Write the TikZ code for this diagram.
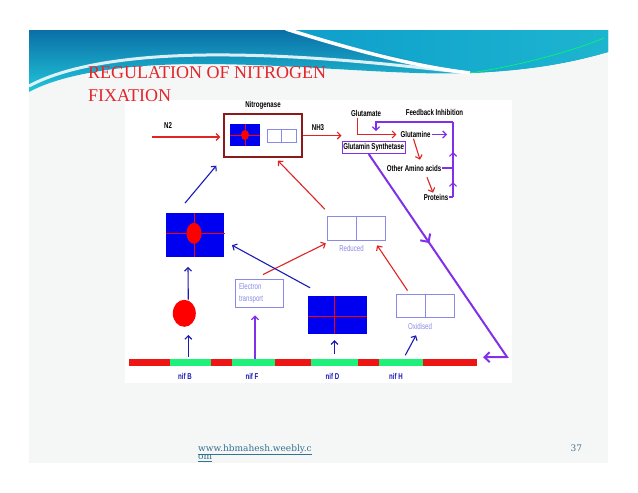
\documentclass[tikz,border=0pt]{standalone}
\usepackage{fontspec}
\setmainfont{Liberation Serif}
\newfontfamily\labfont[FakeStretch=0.72]{Liberation Sans}
\newfontfamily\footfont{DejaVu Serif}
\usetikzlibrary{arrows.meta,positioning,shapes.geometric,decorations.markings}
\definecolor{slidebg}{HTML}{F5F7F7}
\definecolor{bandtop}{HTML}{0A6FA6}
\definecolor{bandbot}{HTML}{22C6DA}
\definecolor{bandright}{HTML}{0E9ECB}
\definecolor{titlered}{HTML}{E3262B}
\definecolor{boxbrown}{HTML}{8B1A1A}
\definecolor{fillblue}{HTML}{0000F0}
\definecolor{ltblue}{HTML}{8A8AE6}
\definecolor{arrred}{HTML}{E02424}
\definecolor{arrblue}{HTML}{1A1AB8}
\definecolor{purp}{HTML}{8030E8}
\definecolor{barred}{HTML}{EE1515}
\definecolor{genegreen}{HTML}{1EF07A}
\definecolor{linkblue}{HTML}{34708F}
\tikzset{
  lab/.style={font=\labfont\bfseries\fontsize{8.5}{9}\selectfont, inner sep=1pt},
  ltlab/.style={font=\labfont\fontsize{8.5}{12}\selectfont, text=ltblue, inner sep=1pt},
  niflab/.style={lab, text=arrblue},
  titletext/.style={font=\fontsize{18}{23}\selectfont, text=titlered, anchor=base west, inner sep=0pt},
  foottext/.style={font=\footfont\fontsize{9}{10}\selectfont, text=linkblue, anchor=base west, inner sep=0pt},
  bluebox/.style={rectangle, fill=fillblue, inner sep=0pt},
  ltbox/.style={rectangle, draw=ltblue, line width=0.9pt, inner sep=0pt},
  redball/.style={ellipse, fill=red, inner sep=0pt},
  gene/.style={rectangle, fill=genegreen, minimum height=6.5pt, inner sep=0pt},
  redarr/.style={draw=arrred, line width=1.1pt, -{Straight Barb[length=3.5pt,width=7pt]}},
  bluearr/.style={draw=arrblue, line width=1.1pt, -{Straight Barb[length=3.5pt,width=7pt]}},
  purparr/.style={draw=purp, line width=1.2pt, -{Straight Barb[length=3.5pt,width=7pt]}},
  purpline/.style={draw=purp, line width=1.2pt},
  crossred/.style={draw=red, line width=0.9pt},
}
\begin{document}
\begin{tikzpicture}[x=1pt,y=-1pt]
  \useasboundingbox (0,0) rectangle (638,493);
  % slide and header band
  \fill[slidebg] (29,30) rectangle (608,463);
  \shade[top color=bandtop, bottom color=bandbot] (29,30) -- (608,30) -- (608,52)
    .. controls (580,60) and (540,70) .. (470,73) .. controls (400,76) and (300,64) .. (200,64)
    .. controls (120,64) and (60,75) .. (29,92) -- cycle;
  \shade[left color=bandright, right color=bandbot!80!bandtop] (288,30) -- (608,30) -- (608,52)
    .. controls (580,60) and (540,70) .. (470,73) .. controls (420,62) and (340,46) .. (288,30) -- cycle;
  \draw[white, line width=3.5pt] (286,29) .. controls (340,46) and (410,66) .. (470,73);
  \draw[white, line width=3pt, opacity=.85] (29,86) .. controls (70,64) and (140,54) .. (230,55)
    .. controls (330,56) and (420,68) .. (470,73);
  \draw[green!60!cyan, line width=.6pt] (470,73) .. controls (530,64) and (580,48) .. (604,38);

  % diagram area
  \fill[white] (125,100) rectangle (512,383);
  \node[titletext] (title) at (88,78) {REGULATION OF NITROGEN};
  \node[titletext] (title2) at (88,101) {FIXATION};

  % nitrogenase
  \node[draw=boxbrown, line width=1.4pt, minimum width=78pt, minimum height=43pt] (nase) at (263,135.5) {};
  \node[bluebox, minimum width=30pt, minimum height=22pt] (nblue) at (245,135) {};
  \draw[crossred] (nblue.west) -- (nblue.east) (nblue.north) -- (nblue.south);
  \node[redball, minimum width=8pt, minimum height=10pt] (nfe) at (nblue) {};
  \node[ltbox, minimum width=29pt, minimum height=13pt] (nsplit) at (281.5,135.5) {};
  \draw[ltblue, line width=0.9pt] (nsplit.north) -- (nsplit.south);
  \node[lab, above=3pt of nase] (nlab) {Nitrogenase};
  \node[lab] (n2) at (168,125.5) {N2};
  \node[lab] (nh3) at (318,127.5) {NH3};
  \coordinate (n2in) at (152,137);

  % ammonia assimilation
  \node[lab] (glu) at (366,113.3) {Glutamate};
  \node[lab] (fb) at (434.5,112.5) {Feedback Inhibition};
  \node[lab, draw=purp, line width=1.4pt, minimum width=63pt, minimum height=11.6pt] (gs) at (373.7,147.5) {Glutamin Synthetase};
  \node[lab] (gln) at (415.5,134.5) {Glutamine};
  \node[lab] (oaa) at (414,168) {Other Amino acids};
  \node[lab] (prot) at (436,197) {Proteins};
  \coordinate (fbtop) at (453,122);
  \coordinate (fbbot) at (prot.east -| fbtop);
  \coordinate (bend) at (507,357);

  % MoFe protein, Fe protein, ferredoxin
  \node[bluebox, minimum width=58.6pt, minimum height=43.4pt] (mofe) at (195,235) {};
  \node[redball, minimum width=15pt, minimum height=21pt] (mofeco) at (194,233.3) {};
  \draw[crossred] (mofe.west |- mofeco) -- (mofe.east |- mofeco) (mofeco |- mofe.north) -- (mofeco |- mofe.south);
  \node[redball, minimum width=23pt, minimum height=27pt] (feco) at (184.3,313.3) {};
  \node[ltbox, minimum width=58.4pt, minimum height=23.3pt] (fdred) at (356.5,228.3) {};
  \draw[ltblue, line width=0.9pt] (fdred.north) -- (fdred.south);
  \node[ltlab, below=4pt of fdred, xshift=-5pt] (redlab) {Reduced};
  \node[ltbox, ltlab, minimum width=48pt, minimum height=28pt, text width=40pt, align=left] (etr) at (259,293) {Electron\\transport};
  \node[bluebox, minimum width=58.4pt, minimum height=38pt] (fep) at (337.5,315) {};
  \coordinate (fepx) at (334.3,316.7);
  \draw[crossred] (fep.west |- fepx) -- (fep.east |- fepx) (fepx |- fep.north) -- (fepx |- fep.south);
  \node[ltbox, minimum width=58pt, minimum height=23.3pt] (fdox) at (425,305.7) {};
  \draw[ltblue, line width=0.9pt] (fdox.north) -- (fdox.south);
  \node[ltlab, below=4pt of fdox, xshift=-5pt] (oxlab) {Oxidised};

  % nif genes
  \node[rectangle, fill=barred, minimum width=348pt, minimum height=6.5pt, inner sep=0pt] (bar) at (303,362.7) {};
  \node[gene, minimum width=40.7pt] (nifb) at (190.3,362.7) {};
  \node[gene, minimum width=43.6pt] (niff) at (253.5,362.7) {};
  \node[gene, minimum width=47.6pt] (nifd) at (334.5,362.7) {};
  \node[gene, minimum width=44pt] (nifh) at (401.3,362.7) {};
  \node[niflab] (lnifb) at (185,376) {nif B};
  \node[niflab] (lniff) at (252,376) {nif F};
  \node[niflab] (lnifd) at (332.5,376) {nif D};
  \node[niflab] (lnifh) at (396,376) {nif H};

  % arrows
  \draw[redarr, shorten >=3pt] (n2in) -- (n2in -| nase.west);
  \draw[redarr] (nase.east) -- (nase.east -| gs.west);
  \draw[redarr] ([xshift=-8.5pt]glu.south) |- ([xshift=-3pt]gln.west);
  \draw[purparr] (fbtop) -| ([xshift=2.3pt,yshift=10pt]gs.north);
  \draw[purpline, postaction={decorate}, decoration={markings,
      mark=at position 0.2 with {\arrow{Straight Barb[length=3.5pt,width=7pt]}},
      mark=at position 0.6 with {\arrow{Straight Barb[length=3.5pt,width=7pt]}}}] (fbbot) -- (fbtop);
  \draw[purparr, shorten >=6pt] (gln.east) -- (gln.east -| fbtop);
  \draw[purpline] (oaa.east) -- (oaa.east -| fbtop);
  \draw[purpline] (prot.east) -- (fbbot);
  \draw[redarr] ([xshift=-2pt]gln.south) -- ([xshift=6pt,yshift=4pt]oaa.north);
  \draw[redarr] ([xshift=13pt,yshift=-5pt]oaa.south) -- ([xshift=-3pt]prot.north);
  \draw[draw=purp, line width=2pt, -{Straight Barb[length=5pt,width=10pt]}, postaction={decorate}, decoration={markings,
      mark=at position 0.4 with {\arrow{Straight Barb[length=6pt,width=12pt]}}}]
    ([xshift=-5pt]gs.south) -- (bend) -- ([xshift=6pt,yshift=2pt]bar.north east);
  \draw[bluearr] ([xshift=-10pt,yshift=10pt]mofe.north) -- ([xshift=-7pt,yshift=-8pt]nase.south west);
  \draw[redarr] ([xshift=-2pt,yshift=7pt]fdred.north west) -- ([xshift=15pt,yshift=-3pt]nase.south);
  \draw[redarr] ([xshift=4pt,yshift=4pt]etr.north) -- ([xshift=-1pt,yshift=-3pt]fdred.south west);
  \draw[redarr] ([xshift=12pt,yshift=3pt]fdox.north west) -- ([xshift=-9pt,yshift=-5pt]fdred.south east);
  \draw[bluearr] ([xshift=2pt,yshift=8pt]fep.north west) -- ([xshift=7.5pt,yshift=11.7pt]mofe.south east);
  \draw[bluearr] ([xshift=4pt]feco.north) -- ([xshift=-7pt,yshift=-10pt]mofe.south);
  \draw[bluearr] ([xshift=-2pt,yshift=2pt]nifb.north) -- ([xshift=4pt,yshift=-8pt]feco.south);
  \draw[purparr] ([xshift=1.5pt]niff.north) -- ([xshift=-4pt,yshift=-8pt]etr.south);
  \draw[bluearr] ([yshift=5pt]nifd.north) -- ([xshift=-3pt,yshift=-6pt]fep.south);
  \draw[bluearr] ([xshift=4pt,yshift=4pt]nifh.north) -- ([xshift=-9pt,yshift=-17.5pt]fdox.south);

  % footer
  \node[foottext] (url) at (198,451) {\underline{www.hbmahesh.weebly.c}};
  \node[foottext] (url2) at (198,459.5) {\underline{om}};
  \node[foottext, text=linkblue!70!gray] (pg) at (570.5,451) {37};
\end{tikzpicture}
\end{document}
